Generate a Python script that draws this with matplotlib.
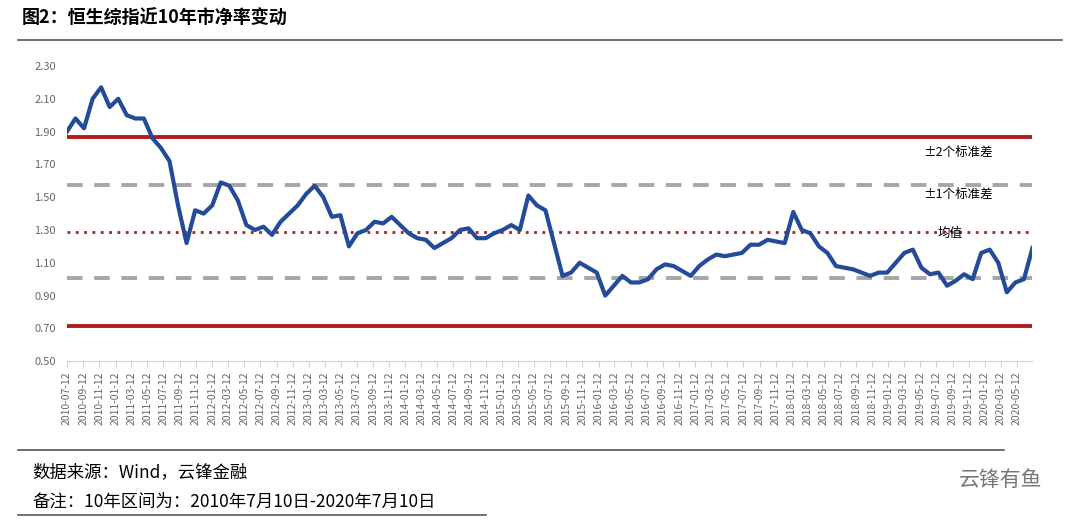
import numpy as np
import pandas as pd
import matplotlib
matplotlib.use("Agg")
import matplotlib.pyplot as plt

plt.rcParams['font.family'] = ['Noto Sans CJK SC', 'DejaVu Sans']

# PB of Hang Seng Composite (~1 month apart)
pb_values = [
    1.90, 1.98, 1.92, 2.10, 2.17, 2.05, 2.10, 2.00, 1.98, 1.98,
    1.86, 1.80, 1.72, 1.45, 1.22, 1.42, 1.40, 1.45, 1.59, 1.57,
    1.48, 1.33, 1.30, 1.32, 1.27, 1.35, 1.40, 1.45, 1.52, 1.57,
    1.50, 1.38, 1.39, 1.20, 1.28, 1.30, 1.35, 1.34, 1.38, 1.33,
    1.28, 1.25, 1.24, 1.19, 1.22, 1.25, 1.30, 1.31, 1.25, 1.25,
    1.28, 1.30, 1.33, 1.30,
    1.51, 1.45, 1.42, 1.22, 1.02, 1.04, 1.10, 1.07, 1.04, 0.90,
    0.96, 1.02, 0.98, 0.98, 1.00, 1.06, 1.09, 1.08, 1.05, 1.02,
    1.08, 1.12, 1.15, 1.14, 1.15, 1.16, 1.21, 1.21, 1.24, 1.23,
    1.22, 1.41, 1.30, 1.28, 1.20, 1.16, 1.08, 1.07, 1.06, 1.04,
    1.02, 1.04, 1.04, 1.10, 1.16, 1.18, 1.07, 1.03, 1.04, 0.96,
    0.99, 1.03, 1.00, 1.16, 1.18, 1.10, 0.92, 0.98, 1.00, 1.19,
]
start, end = pd.Timestamp("2010-07-12"), pd.Timestamp("2020-07-10")
dates = pd.to_datetime(np.linspace(start.value, end.value, len(pb_values)))

mean_pb = 1.29
sd1 = (1.575, 1.005)
sd2 = (1.865, 0.715)
tick_dates = pd.date_range("2010-07-01", "2020-05-01", freq="2MS") + pd.Timedelta(days=11)

fig = plt.figure(figsize=(10.8, 5.28), dpi=100)
ax = fig.add_axes([0.062, 0.316, 0.894, 0.559])

ax.axhline(sd2[0], color="#b01c1c", lw=2.8, zorder=2)
ax.axhline(sd2[1], color="#b01c1c", lw=2.8, zorder=2)
ax.axhline(sd1[0], color="#a6a6a6", lw=2.8, ls=(0, (4, 3)), zorder=2)
ax.axhline(sd1[1], color="#a6a6a6", lw=2.8, ls=(0, (4, 3)), zorder=2)
ax.axhline(mean_pb, color="#b01c1c", lw=2.0, ls=(0, (1, 2.0)), zorder=2)
ax.plot(dates, pb_values, color="#244a9a", lw=3.0, zorder=3)

ax.set_xlim(start, end)
ax.set_ylim(0.5, 2.3)
ax.set_yticks(np.arange(0.5, 2.31, 0.2))
ax.set_yticklabels([f"{v:.2f}" for v in np.arange(0.5, 2.31, 0.2)])
ax.set_xticks(tick_dates)
ax.set_xticklabels([d.strftime("%Y-%m-%d") for d in tick_dates], rotation=90)
ax.tick_params(axis="y", length=0, labelsize=8, labelcolor="#666666", pad=8)
ax.tick_params(axis="x", length=4, color="#d0d0d0", labelsize=7.5, labelcolor="#666666")
for s in ["top", "right", "left"]:
    ax.spines[s].set_visible(False)
ax.spines["bottom"].set_color("#d0d0d0")

lab_x = pd.Timestamp("2019-10-01")
ax.text(lab_x, 1.77, "±2个标准差", fontsize=9, ha="center", va="center")
ax.text(lab_x, 1.515, "±1个标准差", fontsize=9, ha="center", va="center")
ax.text(pd.Timestamp("2019-09-01"), 1.28, "均值", fontsize=9, ha="center", va="center")

fig.text(0.02, 0.965, "图2：恒生综指近10年市净率变动", fontsize=13, fontweight="bold", va="center")
fig.add_artist(plt.Line2D([0.017, 0.983], [0.925, 0.925], color="#555555", lw=1.2))
fig.add_artist(plt.Line2D([0.017, 0.93], [0.148, 0.148], color="#555555", lw=1.2))
fig.add_artist(plt.Line2D([0.017, 0.45], [0.025, 0.025], color="#555555", lw=1.2))
fig.text(0.03, 0.105, "数据来源：Wind，云锋金融", fontsize=12.5, va="center")
fig.text(0.03, 0.05, "备注：10年区间为：2010年7月10日-2020年7月10日", fontsize=12.5, va="center")
fig.text(0.965, 0.09, "云锋有鱼", fontsize=15, color="#777777", ha="right", va="center")

fig.savefig("out.png", dpi=100)
